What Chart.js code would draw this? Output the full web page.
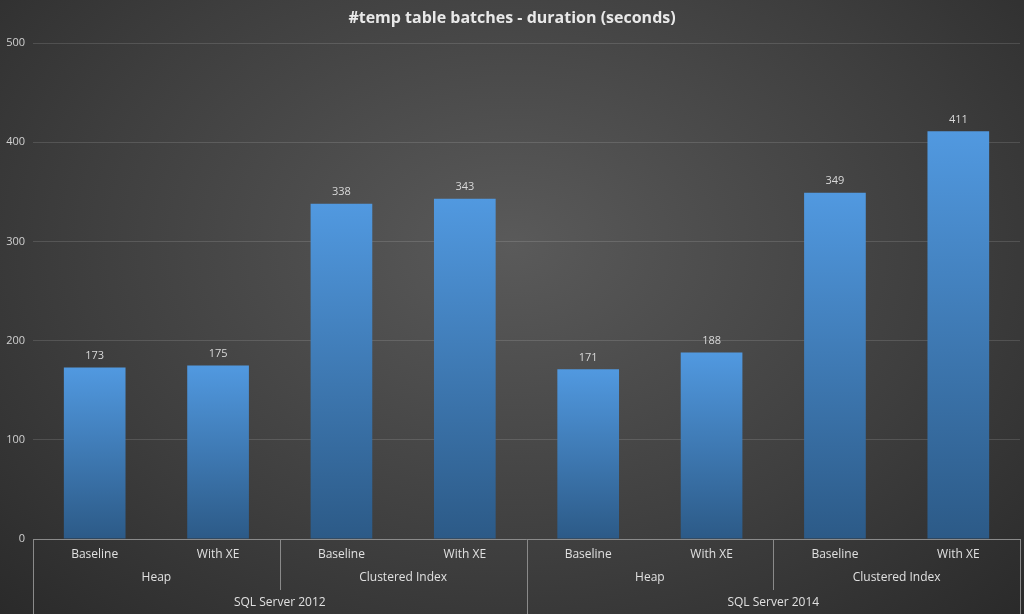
<!DOCTYPE html>
<html><head><meta charset="utf-8">
<script src="https://cdn.jsdelivr.net/npm/chart.js@4"></script>
<style>
html,body{margin:0;padding:0;}
body{width:1024px;height:614px;background:radial-gradient(ellipse at 50% 40%,#5a5a5a 0%,#3e3e3e 60%,#2a2a2a 100%);}
#c{display:block;}
</style></head><body>
<canvas id="c" width="1024" height="614"></canvas>
<script>
const categories=["Baseline","With XE","Baseline","With XE","Baseline","With XE","Baseline","With XE"];
const groups=["Heap","Clustered Index","Heap","Clustered Index"];
const servers=["SQL Server 2012","SQL Server 2014"];
const values=[173,175,338,343,171,188,349,411];
const yTicks=[0,100,200,300,400,500];
const title="#temp table batches - duration (seconds)";

const ctx=document.getElementById('c').getContext('2d');
const font="'Open Sans', 'DejaVu Sans', sans-serif";
const deco={id:'deco',
 afterDatasetsDraw(ch){
  const c=ch.ctx,a=ch.chartArea,x=ch.scales.x,y=ch.scales.y;
  c.save();
  c.fillStyle='#e8e8e8';c.font='bold 16px '+font;c.textAlign='center';c.textBaseline='middle';
  c.fillText(title,512,18);
  c.font='11px '+font;c.fillStyle='#d9d9d9';c.textBaseline='bottom';
  ch.getDatasetMeta(0).data.forEach((b,i)=>c.fillText(values[i],b.x,b.y-6));
  c.strokeStyle='#8a8a8a';c.lineWidth=1;
  c.beginPath();c.moveTo(a.left,a.bottom+0.5);c.lineTo(a.right,a.bottom+0.5);c.stroke();
  const step=(x.getPixelForValue(1)-x.getPixelForValue(0));
  const edge=i=>x.getPixelForValue(i)-step/2;
  c.beginPath();
  for(let g=0;g<=4;g++){const px=Math.round(edge(g*2))+0.5;const top=(g%2===0);c.moveTo(px,a.bottom);c.lineTo(px,top?614:590);}
  c.stroke();
  c.font='12px '+font;c.fillStyle='#e0e0e0';c.textBaseline='middle';
  categories.forEach((t,i)=>c.fillText(t,x.getPixelForValue(i),555));
  groups.forEach((t,g)=>c.fillText(t,(edge(g*2)+edge(g*2+2))/2,578));
  servers.forEach((t,s)=>c.fillText(t,(edge(s*4)+edge(s*4+4))/2,603));
  c.restore();
 }};
new Chart(ctx,{type:'bar',
 data:{labels:categories,datasets:[{data:values,
  backgroundColor:(cx)=>{const ch=cx.chart,a=ch.chartArea;if(!a||!cx.parsed)return '#4a8fd6';
   const g=ch.ctx.createLinearGradient(0,ch.scales.y.getPixelForValue(cx.parsed.y),0,a.bottom);
   g.addColorStop(0,'#5199e0');g.addColorStop(1,'#2c5a87');return g;},
  categoryPercentage:1,barPercentage:0.5}]},
 options:{responsive:false,animation:false,
  layout:{padding:{left:0,right:4,top:43,bottom:75}},
  plugins:{legend:{display:false},tooltip:{enabled:false}},
  scales:{
   x:{display:false},
   y:{min:0,max:500,afterFit(s){s.width=33;},
    afterBuildTicks(s){s.ticks=yTicks.map(v=>({value:v}));},
    ticks:{color:'#d0d0d0',font:{size:11,family:font},padding:8},
    grid:{color:'rgba(255,255,255,0.13)',drawTicks:false},border:{display:false}}
  }},
 plugins:[deco]});
</script></body></html>
